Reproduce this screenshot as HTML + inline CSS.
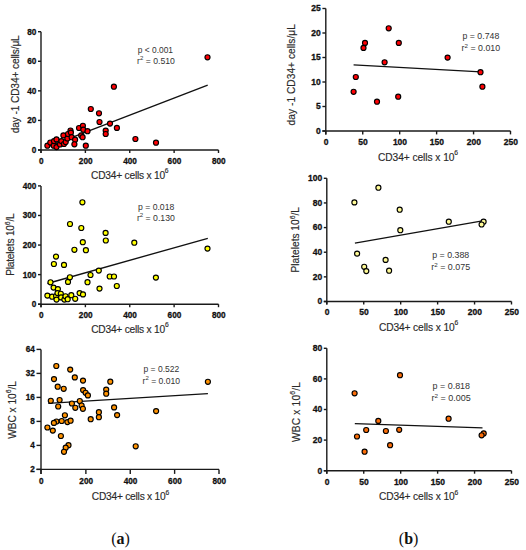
<!DOCTYPE html>
<html><head><meta charset="utf-8"><title>Figure</title>
<style>
html,body{margin:0;padding:0;background:#fff;}
body{width:526px;height:550px;overflow:hidden;}
svg{display:block;font-family:"Liberation Sans",sans-serif;}
</style></head><body>
<svg width="526" height="550" viewBox="0 0 526 550">
<rect width="526" height="550" fill="#fff"/>
<line x1="41" y1="31.7" x2="41" y2="153" stroke="#1a1a1a" stroke-width="1.4"/>
<line x1="38" y1="150" x2="218.5" y2="150" stroke="#1a1a1a" stroke-width="1.4"/>
<line x1="38" y1="150" x2="41" y2="150" stroke="#1a1a1a" stroke-width="1.4"/>
<text x="36.4" y="152.9" font-size="8.2" text-anchor="end" font-weight="bold" fill="#111" stroke="#111" stroke-width="0.3">0</text>
<line x1="38" y1="120.42" x2="41" y2="120.42" stroke="#1a1a1a" stroke-width="1.4"/>
<text x="36.4" y="123.33" font-size="8.2" text-anchor="end" font-weight="bold" fill="#111" stroke="#111" stroke-width="0.3">20</text>
<line x1="38" y1="90.85" x2="41" y2="90.85" stroke="#1a1a1a" stroke-width="1.4"/>
<text x="36.4" y="93.75" font-size="8.2" text-anchor="end" font-weight="bold" fill="#111" stroke="#111" stroke-width="0.3">40</text>
<line x1="38" y1="61.28" x2="41" y2="61.28" stroke="#1a1a1a" stroke-width="1.4"/>
<text x="36.4" y="64.18" font-size="8.2" text-anchor="end" font-weight="bold" fill="#111" stroke="#111" stroke-width="0.3">60</text>
<line x1="38" y1="31.7" x2="41" y2="31.7" stroke="#1a1a1a" stroke-width="1.4"/>
<text x="36.4" y="34.6" font-size="8.2" text-anchor="end" font-weight="bold" fill="#111" stroke="#111" stroke-width="0.3">80</text>
<line x1="41" y1="150" x2="41" y2="153" stroke="#1a1a1a" stroke-width="1.4"/>
<text x="41.3" y="163.8" font-size="8.2" text-anchor="middle" font-weight="bold" fill="#111" stroke="#111" stroke-width="0.3">0</text>
<line x1="85.38" y1="150" x2="85.38" y2="153" stroke="#1a1a1a" stroke-width="1.4"/>
<text x="85.67" y="163.8" font-size="8.2" text-anchor="middle" font-weight="bold" fill="#111" stroke="#111" stroke-width="0.3">200</text>
<line x1="129.75" y1="150" x2="129.75" y2="153" stroke="#1a1a1a" stroke-width="1.4"/>
<text x="130.05" y="163.8" font-size="8.2" text-anchor="middle" font-weight="bold" fill="#111" stroke="#111" stroke-width="0.3">400</text>
<line x1="174.12" y1="150" x2="174.12" y2="153" stroke="#1a1a1a" stroke-width="1.4"/>
<text x="174.43" y="163.8" font-size="8.2" text-anchor="middle" font-weight="bold" fill="#111" stroke="#111" stroke-width="0.3">600</text>
<line x1="218.5" y1="150" x2="218.5" y2="153" stroke="#1a1a1a" stroke-width="1.4"/>
<text x="218.8" y="163.8" font-size="8.2" text-anchor="middle" font-weight="bold" fill="#111" stroke="#111" stroke-width="0.3">800</text>
<line x1="47.4" y1="146.9" x2="207.7" y2="85.2" stroke="#111" stroke-width="1.35"/>
<circle cx="47.4" cy="145.7" r="2.53" fill="#ff0004" stroke="#000" stroke-width="1.15"/>
<circle cx="50.3" cy="142.5" r="2.53" fill="#ff0004" stroke="#000" stroke-width="1.15"/>
<circle cx="53.7" cy="145.7" r="2.53" fill="#ff0004" stroke="#000" stroke-width="1.15"/>
<circle cx="54" cy="141.1" r="2.53" fill="#ff0004" stroke="#000" stroke-width="1.15"/>
<circle cx="56.5" cy="139.4" r="2.53" fill="#ff0004" stroke="#000" stroke-width="1.15"/>
<circle cx="56.5" cy="147.1" r="2.53" fill="#ff0004" stroke="#000" stroke-width="1.15"/>
<circle cx="60" cy="144.5" r="2.53" fill="#ff0004" stroke="#000" stroke-width="1.15"/>
<circle cx="61.4" cy="141.1" r="2.53" fill="#ff0004" stroke="#000" stroke-width="1.15"/>
<circle cx="64" cy="144" r="2.53" fill="#ff0004" stroke="#000" stroke-width="1.15"/>
<circle cx="63.4" cy="135.4" r="2.53" fill="#ff0004" stroke="#000" stroke-width="1.15"/>
<circle cx="65.7" cy="142" r="2.53" fill="#ff0004" stroke="#000" stroke-width="1.15"/>
<circle cx="67.4" cy="138.5" r="2.53" fill="#ff0004" stroke="#000" stroke-width="1.15"/>
<circle cx="68" cy="134" r="2.53" fill="#ff0004" stroke="#000" stroke-width="1.15"/>
<circle cx="70.5" cy="130.5" r="2.53" fill="#ff0004" stroke="#000" stroke-width="1.15"/>
<circle cx="70.9" cy="132.6" r="2.53" fill="#ff0004" stroke="#000" stroke-width="1.15"/>
<circle cx="71.6" cy="137.2" r="2.53" fill="#ff0004" stroke="#000" stroke-width="1.15"/>
<circle cx="75.1" cy="139.7" r="2.53" fill="#ff0004" stroke="#000" stroke-width="1.15"/>
<circle cx="74.4" cy="144.3" r="2.53" fill="#ff0004" stroke="#000" stroke-width="1.15"/>
<circle cx="79" cy="128" r="2.53" fill="#ff0004" stroke="#000" stroke-width="1.15"/>
<circle cx="82.9" cy="125.8" r="2.53" fill="#ff0004" stroke="#000" stroke-width="1.15"/>
<circle cx="83.3" cy="129.7" r="2.53" fill="#ff0004" stroke="#000" stroke-width="1.15"/>
<circle cx="87.5" cy="131.2" r="2.53" fill="#ff0004" stroke="#000" stroke-width="1.15"/>
<circle cx="81.2" cy="135.4" r="2.53" fill="#ff0004" stroke="#000" stroke-width="1.15"/>
<circle cx="82.6" cy="137.2" r="2.53" fill="#ff0004" stroke="#000" stroke-width="1.15"/>
<circle cx="85.8" cy="145.7" r="2.53" fill="#ff0004" stroke="#000" stroke-width="1.15"/>
<circle cx="90.8" cy="109" r="2.53" fill="#ff0004" stroke="#000" stroke-width="1.15"/>
<circle cx="99" cy="113.3" r="2.53" fill="#ff0004" stroke="#000" stroke-width="1.15"/>
<circle cx="99.5" cy="122" r="2.53" fill="#ff0004" stroke="#000" stroke-width="1.15"/>
<circle cx="110" cy="123.6" r="2.53" fill="#ff0004" stroke="#000" stroke-width="1.15"/>
<circle cx="105.7" cy="130.6" r="2.53" fill="#ff0004" stroke="#000" stroke-width="1.15"/>
<circle cx="105.7" cy="134" r="2.53" fill="#ff0004" stroke="#000" stroke-width="1.15"/>
<circle cx="116.9" cy="127.9" r="2.53" fill="#ff0004" stroke="#000" stroke-width="1.15"/>
<circle cx="135.4" cy="139" r="2.53" fill="#ff0004" stroke="#000" stroke-width="1.15"/>
<circle cx="156" cy="142.7" r="2.53" fill="#ff0004" stroke="#000" stroke-width="1.15"/>
<circle cx="113.9" cy="86.7" r="2.53" fill="#ff0004" stroke="#000" stroke-width="1.15"/>
<circle cx="207.5" cy="57.3" r="2.53" fill="#ff0004" stroke="#000" stroke-width="1.15"/>
<text x="137.85" y="53.1" font-size="8.8" fill="#333333" textLength="35.1" lengthAdjust="spacingAndGlyphs">p &lt; 0.001</text>
<text x="137.1" y="64" font-size="8.8" fill="#333333" textLength="37.8" lengthAdjust="spacingAndGlyphs">r<tspan font-size="6.16" dy="-3.6">2</tspan><tspan dy="3.6"> = 0.510</tspan></text>
<text x="91.1" y="178.8" font-size="10.2" fill="#2a2a2a" stroke="#2a2a2a" stroke-width="0.15" textLength="77.5" lengthAdjust="spacing">CD34+ cells x 10<tspan font-size="6.73" dy="-5.5">6</tspan></text>
<text transform="translate(19.2,133.3) rotate(-90)" x="0" y="0" font-size="10.2" fill="#2a2a2a" stroke="#2a2a2a" stroke-width="0.15" textLength="98.1" lengthAdjust="spacing">day -1 CD34+ cells/&#956;L</text>
<line x1="41" y1="185.9" x2="41" y2="307.2" stroke="#1a1a1a" stroke-width="1.4"/>
<line x1="38" y1="304.2" x2="218.5" y2="304.2" stroke="#1a1a1a" stroke-width="1.4"/>
<line x1="38" y1="304.2" x2="41" y2="304.2" stroke="#1a1a1a" stroke-width="1.4"/>
<text x="36.4" y="307.1" font-size="8.2" text-anchor="end" font-weight="bold" fill="#111" stroke="#111" stroke-width="0.3">0</text>
<line x1="38" y1="274.62" x2="41" y2="274.62" stroke="#1a1a1a" stroke-width="1.4"/>
<text x="36.4" y="277.52" font-size="8.2" text-anchor="end" font-weight="bold" fill="#111" stroke="#111" stroke-width="0.3">100</text>
<line x1="38" y1="245.05" x2="41" y2="245.05" stroke="#1a1a1a" stroke-width="1.4"/>
<text x="36.4" y="247.95" font-size="8.2" text-anchor="end" font-weight="bold" fill="#111" stroke="#111" stroke-width="0.3">200</text>
<line x1="38" y1="215.48" x2="41" y2="215.48" stroke="#1a1a1a" stroke-width="1.4"/>
<text x="36.4" y="218.38" font-size="8.2" text-anchor="end" font-weight="bold" fill="#111" stroke="#111" stroke-width="0.3">300</text>
<line x1="38" y1="185.9" x2="41" y2="185.9" stroke="#1a1a1a" stroke-width="1.4"/>
<text x="36.4" y="188.8" font-size="8.2" text-anchor="end" font-weight="bold" fill="#111" stroke="#111" stroke-width="0.3">400</text>
<line x1="41" y1="304.2" x2="41" y2="307.2" stroke="#1a1a1a" stroke-width="1.4"/>
<text x="41.3" y="318" font-size="8.2" text-anchor="middle" font-weight="bold" fill="#111" stroke="#111" stroke-width="0.3">0</text>
<line x1="85.38" y1="304.2" x2="85.38" y2="307.2" stroke="#1a1a1a" stroke-width="1.4"/>
<text x="85.67" y="318" font-size="8.2" text-anchor="middle" font-weight="bold" fill="#111" stroke="#111" stroke-width="0.3">200</text>
<line x1="129.75" y1="304.2" x2="129.75" y2="307.2" stroke="#1a1a1a" stroke-width="1.4"/>
<text x="130.05" y="318" font-size="8.2" text-anchor="middle" font-weight="bold" fill="#111" stroke="#111" stroke-width="0.3">400</text>
<line x1="174.12" y1="304.2" x2="174.12" y2="307.2" stroke="#1a1a1a" stroke-width="1.4"/>
<text x="174.43" y="318" font-size="8.2" text-anchor="middle" font-weight="bold" fill="#111" stroke="#111" stroke-width="0.3">600</text>
<line x1="218.5" y1="304.2" x2="218.5" y2="307.2" stroke="#1a1a1a" stroke-width="1.4"/>
<text x="218.8" y="318" font-size="8.2" text-anchor="middle" font-weight="bold" fill="#111" stroke="#111" stroke-width="0.3">800</text>
<line x1="47.4" y1="283.5" x2="207.8" y2="238.3" stroke="#111" stroke-width="1.35"/>
<circle cx="47.4" cy="295.6" r="2.53" fill="#ffff00" stroke="#000" stroke-width="1.15"/>
<circle cx="50.5" cy="282.3" r="2.53" fill="#ffff00" stroke="#000" stroke-width="1.15"/>
<circle cx="52.1" cy="296.7" r="2.53" fill="#ffff00" stroke="#000" stroke-width="1.15"/>
<circle cx="53.6" cy="287.6" r="2.53" fill="#ffff00" stroke="#000" stroke-width="1.15"/>
<circle cx="56.1" cy="296" r="2.53" fill="#ffff00" stroke="#000" stroke-width="1.15"/>
<circle cx="56.5" cy="299.6" r="2.53" fill="#ffff00" stroke="#000" stroke-width="1.15"/>
<circle cx="57.9" cy="289.1" r="2.53" fill="#ffff00" stroke="#000" stroke-width="1.15"/>
<circle cx="57.5" cy="293.1" r="2.53" fill="#ffff00" stroke="#000" stroke-width="1.15"/>
<circle cx="60.8" cy="293.8" r="2.53" fill="#ffff00" stroke="#000" stroke-width="1.15"/>
<circle cx="61.1" cy="297.4" r="2.53" fill="#ffff00" stroke="#000" stroke-width="1.15"/>
<circle cx="64.4" cy="299.6" r="2.53" fill="#ffff00" stroke="#000" stroke-width="1.15"/>
<circle cx="65.5" cy="296.3" r="2.53" fill="#ffff00" stroke="#000" stroke-width="1.15"/>
<circle cx="67.7" cy="299.2" r="2.53" fill="#ffff00" stroke="#000" stroke-width="1.15"/>
<circle cx="68" cy="281.9" r="2.53" fill="#ffff00" stroke="#000" stroke-width="1.15"/>
<circle cx="69.9" cy="277.3" r="2.53" fill="#ffff00" stroke="#000" stroke-width="1.15"/>
<circle cx="71.3" cy="295.2" r="2.53" fill="#ffff00" stroke="#000" stroke-width="1.15"/>
<circle cx="75.2" cy="298.8" r="2.53" fill="#ffff00" stroke="#000" stroke-width="1.15"/>
<circle cx="79.6" cy="293.1" r="2.53" fill="#ffff00" stroke="#000" stroke-width="1.15"/>
<circle cx="83" cy="294.4" r="2.53" fill="#ffff00" stroke="#000" stroke-width="1.15"/>
<circle cx="87.5" cy="282.2" r="2.53" fill="#ffff00" stroke="#000" stroke-width="1.15"/>
<circle cx="90.5" cy="275" r="2.53" fill="#ffff00" stroke="#000" stroke-width="1.15"/>
<circle cx="98.8" cy="270.6" r="2.53" fill="#ffff00" stroke="#000" stroke-width="1.15"/>
<circle cx="99.5" cy="288.6" r="2.53" fill="#ffff00" stroke="#000" stroke-width="1.15"/>
<circle cx="109.7" cy="276.5" r="2.53" fill="#ffff00" stroke="#000" stroke-width="1.15"/>
<circle cx="114" cy="276.5" r="2.53" fill="#ffff00" stroke="#000" stroke-width="1.15"/>
<circle cx="116.8" cy="286" r="2.53" fill="#ffff00" stroke="#000" stroke-width="1.15"/>
<circle cx="56" cy="256.6" r="2.53" fill="#ffff00" stroke="#000" stroke-width="1.15"/>
<circle cx="53.9" cy="264" r="2.53" fill="#ffff00" stroke="#000" stroke-width="1.15"/>
<circle cx="64" cy="264.9" r="2.53" fill="#ffff00" stroke="#000" stroke-width="1.15"/>
<circle cx="74.4" cy="249.8" r="2.53" fill="#ffff00" stroke="#000" stroke-width="1.15"/>
<circle cx="85.9" cy="250.2" r="2.53" fill="#ffff00" stroke="#000" stroke-width="1.15"/>
<circle cx="82.4" cy="202.3" r="2.53" fill="#ffff00" stroke="#000" stroke-width="1.15"/>
<circle cx="70" cy="224" r="2.53" fill="#ffff00" stroke="#000" stroke-width="1.15"/>
<circle cx="81.3" cy="228" r="2.53" fill="#ffff00" stroke="#000" stroke-width="1.15"/>
<circle cx="82.8" cy="242.2" r="2.53" fill="#ffff00" stroke="#000" stroke-width="1.15"/>
<circle cx="105.6" cy="232.9" r="2.53" fill="#ffff00" stroke="#000" stroke-width="1.15"/>
<circle cx="105.8" cy="240.5" r="2.53" fill="#ffff00" stroke="#000" stroke-width="1.15"/>
<circle cx="134.3" cy="242.7" r="2.53" fill="#ffff00" stroke="#000" stroke-width="1.15"/>
<circle cx="155.9" cy="277.6" r="2.53" fill="#ffff00" stroke="#000" stroke-width="1.15"/>
<circle cx="207.5" cy="248.6" r="2.53" fill="#ffff00" stroke="#000" stroke-width="1.15"/>
<text x="138.05" y="209.6" font-size="8.8" fill="#333333" textLength="36.2" lengthAdjust="spacingAndGlyphs">p = 0.018</text>
<text x="136.9" y="220.9" font-size="8.8" fill="#333333" textLength="38" lengthAdjust="spacingAndGlyphs">r<tspan font-size="6.16" dy="-3.6">2</tspan><tspan dy="3.6"> = 0.130</tspan></text>
<text x="91.2" y="332.7" font-size="10.2" fill="#2a2a2a" stroke="#2a2a2a" stroke-width="0.15" textLength="77.5" lengthAdjust="spacing">CD34+ cells x 10<tspan font-size="6.73" dy="-5.5">6</tspan></text>
<text transform="translate(14.1,275.8) rotate(-90)" x="0" y="0" font-size="10.2" fill="#2a2a2a" stroke="#2a2a2a" stroke-width="0.15" textLength="62.5" lengthAdjust="spacing">Platelets 10<tspan font-size="6.9" dy="-4.6">6</tspan><tspan dy="4.6">/L</tspan></text>
<line x1="41" y1="349.4" x2="41" y2="473.9" stroke="#1a1a1a" stroke-width="1.4"/>
<line x1="36.5" y1="469.4" x2="219" y2="469.4" stroke="#1a1a1a" stroke-width="1.4"/>
<line x1="36.5" y1="469.4" x2="41" y2="469.4" stroke="#1a1a1a" stroke-width="1.4"/>
<text x="34.9" y="472.3" font-size="8.2" text-anchor="end" font-weight="bold" fill="#111" stroke="#111" stroke-width="0.3">2</text>
<line x1="36.5" y1="445.4" x2="41" y2="445.4" stroke="#1a1a1a" stroke-width="1.4"/>
<text x="34.9" y="448.3" font-size="8.2" text-anchor="end" font-weight="bold" fill="#111" stroke="#111" stroke-width="0.3">4</text>
<line x1="36.5" y1="421.4" x2="41" y2="421.4" stroke="#1a1a1a" stroke-width="1.4"/>
<text x="34.9" y="424.3" font-size="8.2" text-anchor="end" font-weight="bold" fill="#111" stroke="#111" stroke-width="0.3">8</text>
<line x1="36.5" y1="397.4" x2="41" y2="397.4" stroke="#1a1a1a" stroke-width="1.4"/>
<text x="34.9" y="400.3" font-size="8.2" text-anchor="end" font-weight="bold" fill="#111" stroke="#111" stroke-width="0.3">16</text>
<line x1="36.5" y1="373.4" x2="41" y2="373.4" stroke="#1a1a1a" stroke-width="1.4"/>
<text x="34.9" y="376.3" font-size="8.2" text-anchor="end" font-weight="bold" fill="#111" stroke="#111" stroke-width="0.3">32</text>
<line x1="36.5" y1="349.4" x2="41" y2="349.4" stroke="#1a1a1a" stroke-width="1.4"/>
<text x="34.9" y="352.3" font-size="8.2" text-anchor="end" font-weight="bold" fill="#111" stroke="#111" stroke-width="0.3">64</text>
<line x1="41" y1="469.4" x2="41" y2="473.9" stroke="#1a1a1a" stroke-width="1.4"/>
<text x="41.3" y="483.7" font-size="8.2" text-anchor="middle" font-weight="bold" fill="#111" stroke="#111" stroke-width="0.3">0</text>
<line x1="85.88" y1="469.4" x2="85.88" y2="473.9" stroke="#1a1a1a" stroke-width="1.4"/>
<text x="86.17" y="483.7" font-size="8.2" text-anchor="middle" font-weight="bold" fill="#111" stroke="#111" stroke-width="0.3">200</text>
<line x1="130.25" y1="469.4" x2="130.25" y2="473.9" stroke="#1a1a1a" stroke-width="1.4"/>
<text x="130.55" y="483.7" font-size="8.2" text-anchor="middle" font-weight="bold" fill="#111" stroke="#111" stroke-width="0.3">400</text>
<line x1="174.62" y1="469.4" x2="174.62" y2="473.9" stroke="#1a1a1a" stroke-width="1.4"/>
<text x="174.93" y="483.7" font-size="8.2" text-anchor="middle" font-weight="bold" fill="#111" stroke="#111" stroke-width="0.3">600</text>
<line x1="219" y1="469.4" x2="219" y2="473.9" stroke="#1a1a1a" stroke-width="1.4"/>
<text x="219.3" y="483.7" font-size="8.2" text-anchor="middle" font-weight="bold" fill="#111" stroke="#111" stroke-width="0.3">800</text>
<line x1="48.2" y1="403.3" x2="207.9" y2="393.6" stroke="#111" stroke-width="1.35"/>
<circle cx="56.3" cy="366" r="2.53" fill="#ff9200" stroke="#000" stroke-width="1.15"/>
<circle cx="70.2" cy="369.6" r="2.53" fill="#ff9200" stroke="#000" stroke-width="1.15"/>
<circle cx="54" cy="379.1" r="2.53" fill="#ff9200" stroke="#000" stroke-width="1.15"/>
<circle cx="74.8" cy="377.4" r="2.53" fill="#ff9200" stroke="#000" stroke-width="1.15"/>
<circle cx="83" cy="380.6" r="2.53" fill="#ff9200" stroke="#000" stroke-width="1.15"/>
<circle cx="57.7" cy="386.7" r="2.53" fill="#ff9200" stroke="#000" stroke-width="1.15"/>
<circle cx="63.7" cy="388.8" r="2.53" fill="#ff9200" stroke="#000" stroke-width="1.15"/>
<circle cx="83.1" cy="390.1" r="2.53" fill="#ff9200" stroke="#000" stroke-width="1.15"/>
<circle cx="85.6" cy="392.8" r="2.53" fill="#ff9200" stroke="#000" stroke-width="1.15"/>
<circle cx="87.9" cy="395.4" r="2.53" fill="#ff9200" stroke="#000" stroke-width="1.15"/>
<circle cx="50.8" cy="400.8" r="2.53" fill="#ff9200" stroke="#000" stroke-width="1.15"/>
<circle cx="59.6" cy="400" r="2.53" fill="#ff9200" stroke="#000" stroke-width="1.15"/>
<circle cx="58.2" cy="406.5" r="2.53" fill="#ff9200" stroke="#000" stroke-width="1.15"/>
<circle cx="71.9" cy="403.5" r="2.53" fill="#ff9200" stroke="#000" stroke-width="1.15"/>
<circle cx="79.8" cy="401" r="2.53" fill="#ff9200" stroke="#000" stroke-width="1.15"/>
<circle cx="81.6" cy="405.5" r="2.53" fill="#ff9200" stroke="#000" stroke-width="1.15"/>
<circle cx="75.3" cy="407.8" r="2.53" fill="#ff9200" stroke="#000" stroke-width="1.15"/>
<circle cx="82.9" cy="408.8" r="2.53" fill="#ff9200" stroke="#000" stroke-width="1.15"/>
<circle cx="64.9" cy="415.3" r="2.53" fill="#ff9200" stroke="#000" stroke-width="1.15"/>
<circle cx="56.5" cy="421.5" r="2.53" fill="#ff9200" stroke="#000" stroke-width="1.15"/>
<circle cx="53.9" cy="422.9" r="2.53" fill="#ff9200" stroke="#000" stroke-width="1.15"/>
<circle cx="61.7" cy="421" r="2.53" fill="#ff9200" stroke="#000" stroke-width="1.15"/>
<circle cx="67.4" cy="422.1" r="2.53" fill="#ff9200" stroke="#000" stroke-width="1.15"/>
<circle cx="70.6" cy="420.7" r="2.53" fill="#ff9200" stroke="#000" stroke-width="1.15"/>
<circle cx="47.4" cy="427.5" r="2.53" fill="#ff9200" stroke="#000" stroke-width="1.15"/>
<circle cx="52.8" cy="430.6" r="2.53" fill="#ff9200" stroke="#000" stroke-width="1.15"/>
<circle cx="60.9" cy="436" r="2.53" fill="#ff9200" stroke="#000" stroke-width="1.15"/>
<circle cx="68.5" cy="445.2" r="2.53" fill="#ff9200" stroke="#000" stroke-width="1.15"/>
<circle cx="65.7" cy="447.7" r="2.53" fill="#ff9200" stroke="#000" stroke-width="1.15"/>
<circle cx="64" cy="451.8" r="2.53" fill="#ff9200" stroke="#000" stroke-width="1.15"/>
<circle cx="90.7" cy="419.2" r="2.53" fill="#ff9200" stroke="#000" stroke-width="1.15"/>
<circle cx="98.9" cy="412.2" r="2.53" fill="#ff9200" stroke="#000" stroke-width="1.15"/>
<circle cx="98.9" cy="417.2" r="2.53" fill="#ff9200" stroke="#000" stroke-width="1.15"/>
<circle cx="110.3" cy="381.7" r="2.53" fill="#ff9200" stroke="#000" stroke-width="1.15"/>
<circle cx="106.2" cy="389.6" r="2.53" fill="#ff9200" stroke="#000" stroke-width="1.15"/>
<circle cx="106.2" cy="393.7" r="2.53" fill="#ff9200" stroke="#000" stroke-width="1.15"/>
<circle cx="114.1" cy="407.4" r="2.53" fill="#ff9200" stroke="#000" stroke-width="1.15"/>
<circle cx="117.1" cy="415.1" r="2.53" fill="#ff9200" stroke="#000" stroke-width="1.15"/>
<circle cx="156.1" cy="411.1" r="2.53" fill="#ff9200" stroke="#000" stroke-width="1.15"/>
<circle cx="135.7" cy="446.3" r="2.53" fill="#ff9200" stroke="#000" stroke-width="1.15"/>
<circle cx="207.9" cy="381.8" r="2.53" fill="#ff9200" stroke="#000" stroke-width="1.15"/>
<text x="143.45" y="371.9" font-size="8.8" fill="#333333" textLength="35.8" lengthAdjust="spacingAndGlyphs">p = 0.522</text>
<text x="142.6" y="383.7" font-size="8.8" fill="#333333" textLength="37.5" lengthAdjust="spacingAndGlyphs">r<tspan font-size="6.16" dy="-3.6">2</tspan><tspan dy="3.6"> = 0.010</tspan></text>
<text x="91.8" y="500.2" font-size="10.2" fill="#2a2a2a" stroke="#2a2a2a" stroke-width="0.15" textLength="77.4" lengthAdjust="spacing">CD34+ cells x 10<tspan font-size="6.73" dy="-5.5">6</tspan></text>
<text transform="translate(15.6,438.8) rotate(-90)" x="0" y="0" font-size="10.2" fill="#2a2a2a" stroke="#2a2a2a" stroke-width="0.15" textLength="57.7" lengthAdjust="spacing">WBC x 10<tspan font-size="6.9" dy="-4.6">6</tspan><tspan dy="4.6">/L</tspan></text>
<line x1="325.8" y1="8.5" x2="325.8" y2="134.4" stroke="#1a1a1a" stroke-width="1.4"/>
<line x1="322.4" y1="131" x2="510.5" y2="131" stroke="#1a1a1a" stroke-width="1.4"/>
<line x1="322.4" y1="131" x2="325.8" y2="131" stroke="#1a1a1a" stroke-width="1.4"/>
<text x="320.8" y="133.9" font-size="8.5" text-anchor="end" font-weight="bold" fill="#111" stroke="#111" stroke-width="0.3">0</text>
<line x1="322.4" y1="106.5" x2="325.8" y2="106.5" stroke="#1a1a1a" stroke-width="1.4"/>
<text x="320.8" y="109.4" font-size="8.5" text-anchor="end" font-weight="bold" fill="#111" stroke="#111" stroke-width="0.3">5</text>
<line x1="322.4" y1="82" x2="325.8" y2="82" stroke="#1a1a1a" stroke-width="1.4"/>
<text x="320.8" y="84.9" font-size="8.5" text-anchor="end" font-weight="bold" fill="#111" stroke="#111" stroke-width="0.3">10</text>
<line x1="322.4" y1="57.5" x2="325.8" y2="57.5" stroke="#1a1a1a" stroke-width="1.4"/>
<text x="320.8" y="60.4" font-size="8.5" text-anchor="end" font-weight="bold" fill="#111" stroke="#111" stroke-width="0.3">15</text>
<line x1="322.4" y1="33" x2="325.8" y2="33" stroke="#1a1a1a" stroke-width="1.4"/>
<text x="320.8" y="35.9" font-size="8.5" text-anchor="end" font-weight="bold" fill="#111" stroke="#111" stroke-width="0.3">20</text>
<line x1="322.4" y1="8.5" x2="325.8" y2="8.5" stroke="#1a1a1a" stroke-width="1.4"/>
<text x="320.8" y="11.4" font-size="8.5" text-anchor="end" font-weight="bold" fill="#111" stroke="#111" stroke-width="0.3">25</text>
<line x1="325.8" y1="131" x2="325.8" y2="134.4" stroke="#1a1a1a" stroke-width="1.4"/>
<text x="326.1" y="144.8" font-size="8.5" text-anchor="middle" font-weight="bold" fill="#111" stroke="#111" stroke-width="0.3">0</text>
<line x1="362.74" y1="131" x2="362.74" y2="134.4" stroke="#1a1a1a" stroke-width="1.4"/>
<text x="363.04" y="144.8" font-size="8.5" text-anchor="middle" font-weight="bold" fill="#111" stroke="#111" stroke-width="0.3">50</text>
<line x1="399.68" y1="131" x2="399.68" y2="134.4" stroke="#1a1a1a" stroke-width="1.4"/>
<text x="399.98" y="144.8" font-size="8.5" text-anchor="middle" font-weight="bold" fill="#111" stroke="#111" stroke-width="0.3">100</text>
<line x1="436.62" y1="131" x2="436.62" y2="134.4" stroke="#1a1a1a" stroke-width="1.4"/>
<text x="436.92" y="144.8" font-size="8.5" text-anchor="middle" font-weight="bold" fill="#111" stroke="#111" stroke-width="0.3">150</text>
<line x1="473.56" y1="131" x2="473.56" y2="134.4" stroke="#1a1a1a" stroke-width="1.4"/>
<text x="473.86" y="144.8" font-size="8.5" text-anchor="middle" font-weight="bold" fill="#111" stroke="#111" stroke-width="0.3">200</text>
<line x1="510.5" y1="131" x2="510.5" y2="134.4" stroke="#1a1a1a" stroke-width="1.4"/>
<text x="510.8" y="144.8" font-size="8.5" text-anchor="middle" font-weight="bold" fill="#111" stroke="#111" stroke-width="0.3">250</text>
<line x1="353.6" y1="64.8" x2="480.8" y2="71.9" stroke="#111" stroke-width="1.35"/>
<circle cx="388.7" cy="28.3" r="2.53" fill="#ff0004" stroke="#000" stroke-width="1.15"/>
<circle cx="365" cy="42.9" r="2.53" fill="#ff0004" stroke="#000" stroke-width="1.15"/>
<circle cx="363.5" cy="47.9" r="2.53" fill="#ff0004" stroke="#000" stroke-width="1.15"/>
<circle cx="398.8" cy="42.9" r="2.53" fill="#ff0004" stroke="#000" stroke-width="1.15"/>
<circle cx="384.6" cy="62.3" r="2.53" fill="#ff0004" stroke="#000" stroke-width="1.15"/>
<circle cx="355.8" cy="77" r="2.53" fill="#ff0004" stroke="#000" stroke-width="1.15"/>
<circle cx="353.6" cy="91.8" r="2.53" fill="#ff0004" stroke="#000" stroke-width="1.15"/>
<circle cx="377" cy="101.7" r="2.53" fill="#ff0004" stroke="#000" stroke-width="1.15"/>
<circle cx="398.2" cy="96.7" r="2.53" fill="#ff0004" stroke="#000" stroke-width="1.15"/>
<circle cx="447.6" cy="57.6" r="2.53" fill="#ff0004" stroke="#000" stroke-width="1.15"/>
<circle cx="480.5" cy="72.2" r="2.53" fill="#ff0004" stroke="#000" stroke-width="1.15"/>
<circle cx="482.4" cy="86.7" r="2.53" fill="#ff0004" stroke="#000" stroke-width="1.15"/>
<text x="462.55" y="39.3" font-size="8.8" fill="#333333" textLength="36.7" lengthAdjust="spacingAndGlyphs">p = 0.748</text>
<text x="461.6" y="51.3" font-size="8.8" fill="#333333" textLength="38.5" lengthAdjust="spacingAndGlyphs">r<tspan font-size="6.16" dy="-3.6">2</tspan><tspan dy="3.6"> = 0.010</tspan></text>
<text x="378" y="160.5" font-size="10.2" fill="#2a2a2a" stroke="#2a2a2a" stroke-width="0.15" textLength="80.1" lengthAdjust="spacing">CD34+ cells x 10<tspan font-size="6.73" dy="-5.5">6</tspan></text>
<text transform="translate(295.2,125.4) rotate(-90)" x="0" y="0" font-size="10.2" fill="#2a2a2a" stroke="#2a2a2a" stroke-width="0.15" textLength="101.3" lengthAdjust="spacing">day -1 CD34+ cells/&#956;L</text>
<line x1="326.8" y1="178.3" x2="326.8" y2="304.5" stroke="#1a1a1a" stroke-width="1.4"/>
<line x1="323.8" y1="301.5" x2="511.5" y2="301.5" stroke="#1a1a1a" stroke-width="1.4"/>
<line x1="323.8" y1="301.5" x2="326.8" y2="301.5" stroke="#1a1a1a" stroke-width="1.4"/>
<text x="322.2" y="304.4" font-size="8.5" text-anchor="end" font-weight="bold" fill="#111" stroke="#111" stroke-width="0.3">0</text>
<line x1="323.8" y1="276.86" x2="326.8" y2="276.86" stroke="#1a1a1a" stroke-width="1.4"/>
<text x="322.2" y="279.76" font-size="8.5" text-anchor="end" font-weight="bold" fill="#111" stroke="#111" stroke-width="0.3">20</text>
<line x1="323.8" y1="252.22" x2="326.8" y2="252.22" stroke="#1a1a1a" stroke-width="1.4"/>
<text x="322.2" y="255.12" font-size="8.5" text-anchor="end" font-weight="bold" fill="#111" stroke="#111" stroke-width="0.3">40</text>
<line x1="323.8" y1="227.58" x2="326.8" y2="227.58" stroke="#1a1a1a" stroke-width="1.4"/>
<text x="322.2" y="230.48" font-size="8.5" text-anchor="end" font-weight="bold" fill="#111" stroke="#111" stroke-width="0.3">60</text>
<line x1="323.8" y1="202.94" x2="326.8" y2="202.94" stroke="#1a1a1a" stroke-width="1.4"/>
<text x="322.2" y="205.84" font-size="8.5" text-anchor="end" font-weight="bold" fill="#111" stroke="#111" stroke-width="0.3">80</text>
<line x1="323.8" y1="178.3" x2="326.8" y2="178.3" stroke="#1a1a1a" stroke-width="1.4"/>
<text x="322.2" y="181.2" font-size="8.5" text-anchor="end" font-weight="bold" fill="#111" stroke="#111" stroke-width="0.3">100</text>
<line x1="326.8" y1="301.5" x2="326.8" y2="304.5" stroke="#1a1a1a" stroke-width="1.4"/>
<text x="327.1" y="315.3" font-size="8.5" text-anchor="middle" font-weight="bold" fill="#111" stroke="#111" stroke-width="0.3">0</text>
<line x1="363.74" y1="301.5" x2="363.74" y2="304.5" stroke="#1a1a1a" stroke-width="1.4"/>
<text x="364.04" y="315.3" font-size="8.5" text-anchor="middle" font-weight="bold" fill="#111" stroke="#111" stroke-width="0.3">50</text>
<line x1="400.68" y1="301.5" x2="400.68" y2="304.5" stroke="#1a1a1a" stroke-width="1.4"/>
<text x="400.98" y="315.3" font-size="8.5" text-anchor="middle" font-weight="bold" fill="#111" stroke="#111" stroke-width="0.3">100</text>
<line x1="437.62" y1="301.5" x2="437.62" y2="304.5" stroke="#1a1a1a" stroke-width="1.4"/>
<text x="437.92" y="315.3" font-size="8.5" text-anchor="middle" font-weight="bold" fill="#111" stroke="#111" stroke-width="0.3">150</text>
<line x1="474.56" y1="301.5" x2="474.56" y2="304.5" stroke="#1a1a1a" stroke-width="1.4"/>
<text x="474.86" y="315.3" font-size="8.5" text-anchor="middle" font-weight="bold" fill="#111" stroke="#111" stroke-width="0.3">200</text>
<line x1="511.5" y1="301.5" x2="511.5" y2="304.5" stroke="#1a1a1a" stroke-width="1.4"/>
<text x="511.8" y="315.3" font-size="8.5" text-anchor="middle" font-weight="bold" fill="#111" stroke="#111" stroke-width="0.3">250</text>
<line x1="354.9" y1="243.1" x2="481" y2="221.1" stroke="#111" stroke-width="1.35"/>
<circle cx="354.4" cy="202.4" r="2.53" fill="#fffa96" stroke="#000" stroke-width="1.15"/>
<circle cx="378.4" cy="187.7" r="2.53" fill="#fffa96" stroke="#000" stroke-width="1.15"/>
<circle cx="399.7" cy="209.7" r="2.53" fill="#fffa96" stroke="#000" stroke-width="1.15"/>
<circle cx="400.3" cy="230.2" r="2.53" fill="#fffa96" stroke="#000" stroke-width="1.15"/>
<circle cx="448.8" cy="221.7" r="2.53" fill="#fffa96" stroke="#000" stroke-width="1.15"/>
<circle cx="483.6" cy="221.7" r="2.53" fill="#fffa96" stroke="#000" stroke-width="1.15"/>
<circle cx="481.6" cy="224.5" r="2.53" fill="#fffa96" stroke="#000" stroke-width="1.15"/>
<circle cx="357.1" cy="253.6" r="2.53" fill="#fffa96" stroke="#000" stroke-width="1.15"/>
<circle cx="364.2" cy="266.8" r="2.53" fill="#fffa96" stroke="#000" stroke-width="1.15"/>
<circle cx="366.3" cy="271.1" r="2.53" fill="#fffa96" stroke="#000" stroke-width="1.15"/>
<circle cx="385.6" cy="259.9" r="2.53" fill="#fffa96" stroke="#000" stroke-width="1.15"/>
<circle cx="389.1" cy="270.7" r="2.53" fill="#fffa96" stroke="#000" stroke-width="1.15"/>
<text x="432.25" y="258.1" font-size="8.8" fill="#333333" textLength="37" lengthAdjust="spacingAndGlyphs">p = 0.388</text>
<text x="431.3" y="270.3" font-size="8.8" fill="#333333" textLength="38.8" lengthAdjust="spacingAndGlyphs">r<tspan font-size="6.16" dy="-3.6">2</tspan><tspan dy="3.6"> = 0.075</tspan></text>
<text x="378.9" y="330.7" font-size="10.2" fill="#2a2a2a" stroke="#2a2a2a" stroke-width="0.15" textLength="79.4" lengthAdjust="spacing">CD34+ cells x 10<tspan font-size="6.73" dy="-5.5">6</tspan></text>
<text transform="translate(299.1,272.4) rotate(-90)" x="0" y="0" font-size="10.2" fill="#2a2a2a" stroke="#2a2a2a" stroke-width="0.15" textLength="65.4" lengthAdjust="spacing">Platelets 10<tspan font-size="6.9" dy="-4.6">6</tspan><tspan dy="4.6">/L</tspan></text>
<line x1="326.8" y1="348.3" x2="326.8" y2="473.7" stroke="#1a1a1a" stroke-width="1.4"/>
<line x1="323.8" y1="470.7" x2="511.5" y2="470.7" stroke="#1a1a1a" stroke-width="1.4"/>
<line x1="323.8" y1="470.7" x2="326.8" y2="470.7" stroke="#1a1a1a" stroke-width="1.4"/>
<text x="322.2" y="473.6" font-size="8.5" text-anchor="end" font-weight="bold" fill="#111" stroke="#111" stroke-width="0.3">0</text>
<line x1="323.8" y1="440.1" x2="326.8" y2="440.1" stroke="#1a1a1a" stroke-width="1.4"/>
<text x="322.2" y="443" font-size="8.5" text-anchor="end" font-weight="bold" fill="#111" stroke="#111" stroke-width="0.3">20</text>
<line x1="323.8" y1="409.5" x2="326.8" y2="409.5" stroke="#1a1a1a" stroke-width="1.4"/>
<text x="322.2" y="412.4" font-size="8.5" text-anchor="end" font-weight="bold" fill="#111" stroke="#111" stroke-width="0.3">40</text>
<line x1="323.8" y1="378.9" x2="326.8" y2="378.9" stroke="#1a1a1a" stroke-width="1.4"/>
<text x="322.2" y="381.8" font-size="8.5" text-anchor="end" font-weight="bold" fill="#111" stroke="#111" stroke-width="0.3">60</text>
<line x1="323.8" y1="348.3" x2="326.8" y2="348.3" stroke="#1a1a1a" stroke-width="1.4"/>
<text x="322.2" y="351.2" font-size="8.5" text-anchor="end" font-weight="bold" fill="#111" stroke="#111" stroke-width="0.3">80</text>
<line x1="326.8" y1="470.7" x2="326.8" y2="473.7" stroke="#1a1a1a" stroke-width="1.4"/>
<text x="327.1" y="484.5" font-size="8.5" text-anchor="middle" font-weight="bold" fill="#111" stroke="#111" stroke-width="0.3">0</text>
<line x1="363.74" y1="470.7" x2="363.74" y2="473.7" stroke="#1a1a1a" stroke-width="1.4"/>
<text x="364.04" y="484.5" font-size="8.5" text-anchor="middle" font-weight="bold" fill="#111" stroke="#111" stroke-width="0.3">50</text>
<line x1="400.68" y1="470.7" x2="400.68" y2="473.7" stroke="#1a1a1a" stroke-width="1.4"/>
<text x="400.98" y="484.5" font-size="8.5" text-anchor="middle" font-weight="bold" fill="#111" stroke="#111" stroke-width="0.3">100</text>
<line x1="437.62" y1="470.7" x2="437.62" y2="473.7" stroke="#1a1a1a" stroke-width="1.4"/>
<text x="437.92" y="484.5" font-size="8.5" text-anchor="middle" font-weight="bold" fill="#111" stroke="#111" stroke-width="0.3">150</text>
<line x1="474.56" y1="470.7" x2="474.56" y2="473.7" stroke="#1a1a1a" stroke-width="1.4"/>
<text x="474.86" y="484.5" font-size="8.5" text-anchor="middle" font-weight="bold" fill="#111" stroke="#111" stroke-width="0.3">200</text>
<line x1="511.5" y1="470.7" x2="511.5" y2="473.7" stroke="#1a1a1a" stroke-width="1.4"/>
<text x="511.8" y="484.5" font-size="8.5" text-anchor="middle" font-weight="bold" fill="#111" stroke="#111" stroke-width="0.3">250</text>
<line x1="354.8" y1="423.6" x2="482.5" y2="427.9" stroke="#111" stroke-width="1.35"/>
<circle cx="354.6" cy="393.3" r="2.53" fill="#fb6d08" stroke="#000" stroke-width="1.15"/>
<circle cx="357" cy="436.5" r="2.53" fill="#fb6d08" stroke="#000" stroke-width="1.15"/>
<circle cx="366.2" cy="430" r="2.53" fill="#fb6d08" stroke="#000" stroke-width="1.15"/>
<circle cx="364.6" cy="451.7" r="2.53" fill="#fb6d08" stroke="#000" stroke-width="1.15"/>
<circle cx="378.3" cy="420.9" r="2.53" fill="#fb6d08" stroke="#000" stroke-width="1.15"/>
<circle cx="385.9" cy="431" r="2.53" fill="#fb6d08" stroke="#000" stroke-width="1.15"/>
<circle cx="390.1" cy="445.2" r="2.53" fill="#fb6d08" stroke="#000" stroke-width="1.15"/>
<circle cx="399.2" cy="429.8" r="2.53" fill="#fb6d08" stroke="#000" stroke-width="1.15"/>
<circle cx="400" cy="375.2" r="2.53" fill="#fb6d08" stroke="#000" stroke-width="1.15"/>
<circle cx="448.6" cy="418.7" r="2.53" fill="#fb6d08" stroke="#000" stroke-width="1.15"/>
<circle cx="483.7" cy="433.4" r="2.53" fill="#fb6d08" stroke="#000" stroke-width="1.15"/>
<circle cx="481.6" cy="435.3" r="2.53" fill="#fb6d08" stroke="#000" stroke-width="1.15"/>
<text x="432.55" y="388.9" font-size="8.8" fill="#333333" textLength="37.5" lengthAdjust="spacingAndGlyphs">p = 0.818</text>
<text x="431.6" y="401.4" font-size="8.8" fill="#333333" textLength="39.2" lengthAdjust="spacingAndGlyphs">r<tspan font-size="6.16" dy="-3.6">2</tspan><tspan dy="3.6"> = 0.005</tspan></text>
<text x="378.9" y="500.2" font-size="10.2" fill="#2a2a2a" stroke="#2a2a2a" stroke-width="0.15" textLength="79.4" lengthAdjust="spacing">CD34+ cells x 10<tspan font-size="6.73" dy="-5.5">6</tspan></text>
<text transform="translate(300,441.9) rotate(-90)" x="0" y="0" font-size="10.2" fill="#2a2a2a" stroke="#2a2a2a" stroke-width="0.15" textLength="59.8" lengthAdjust="spacing">WBC x 10<tspan font-size="6.9" dy="-4.6">6</tspan><tspan dy="4.6">/L</tspan></text>
<text x="120.5" y="544" font-family="Liberation Serif, serif" font-size="16" text-anchor="middle" fill="#111">(<tspan font-weight="bold">a</tspan>)</text>
<text x="408.6" y="544" font-family="Liberation Serif, serif" font-size="16" text-anchor="middle" fill="#111">(<tspan font-weight="bold">b</tspan>)</text>
</svg>
</body></html>
